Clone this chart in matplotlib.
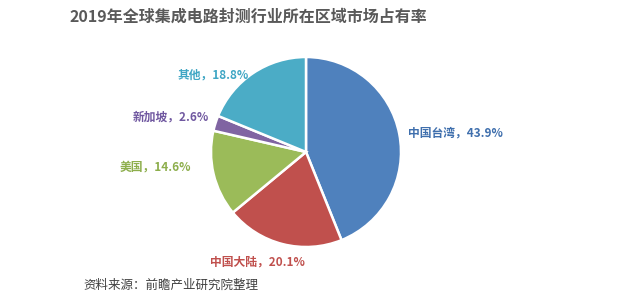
import matplotlib
matplotlib.use("Agg")
import matplotlib.pyplot as plt

plt.rcParams['font.family'] = ['Noto Sans CJK SC', 'DejaVu Sans']

categories = ["中国台湾", "中国大陆", "美国", "新加坡", "其他"]
values = [43.9, 20.1, 14.6, 2.6, 18.8]
colors = ["#4F81BD", "#C0504D", "#9BBB59", "#8064A2", "#4BACC6"]
label_colors = ["#3F6FAD", "#C0504D", "#8DAE4C", "#7058A0", "#3FA6C4"]
title = "2019年全球集成电路封测行业所在区域市场占有率"
source = "资料来源：前瞻产业研究院整理"

W, H = 640, 304
fig = plt.figure(figsize=(W / 100, H / 100), dpi=100)
ax = fig.add_axes([0, 0, 1, 1])

ax.pie(values, colors=colors, startangle=90, counterclock=False,
       center=(306, H - 152), radius=95,
       wedgeprops=dict(edgecolor="white", linewidth=1.8))
ax.set_xlim(0, W)
ax.set_ylim(0, H)
ax.set_aspect("equal")
ax.axis("off")

# label anchor positions (pixel coords, y from top) and alignment
label_pos = [(408, 133, "left"), (210, 262, "left"), (120, 167, "left"),
             (133, 117, "left"), (178, 75, "left")]
for cat, v, c, (x, y, ha) in zip(categories, values, label_colors, label_pos):
    ax.text(x, H - y, f"{cat}，{v:.1f}%", color=c, fontsize=8.5,
            fontweight="bold", ha=ha, va="center")

ax.text(248, H - 17, title, fontsize=11.5, fontweight="bold",
        color="#595959", ha="center", va="center")
ax.text(83, H - 285, source, fontsize=9, color="#404040",
        ha="left", va="center")

fig.savefig("out.png", dpi=100, facecolor="white")
